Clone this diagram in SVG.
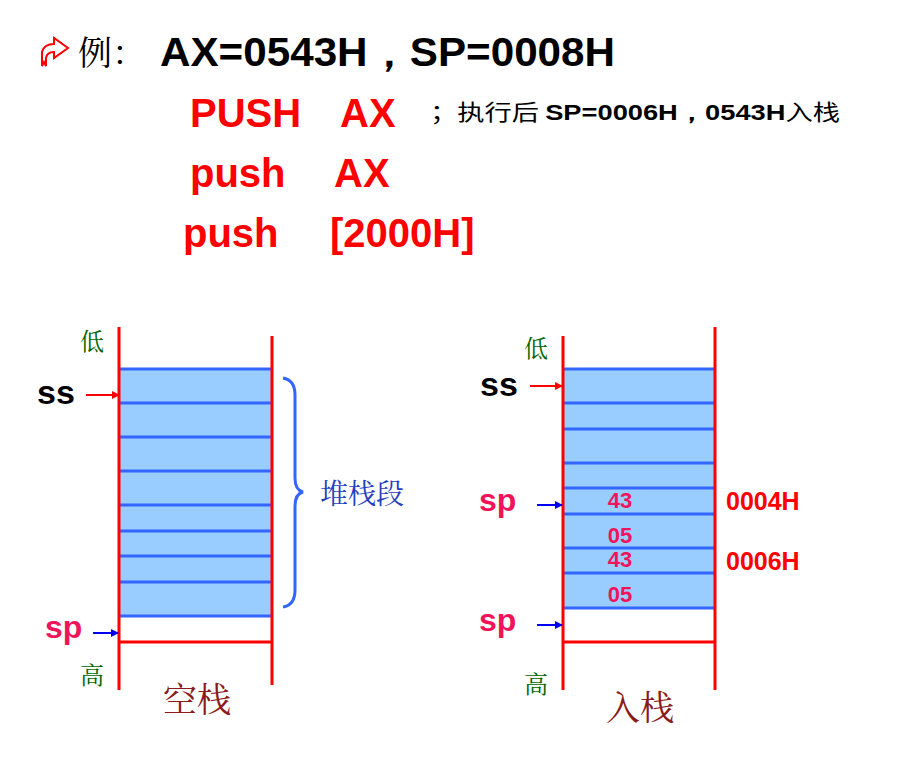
<svg xmlns="http://www.w3.org/2000/svg" width="902" height="759" viewBox="0 0 902 759">
<style>
.b{font-family:"Liberation Sans",Arial,sans-serif;font-weight:bold}
.cj{font-family:"Noto Sans CJK SC",sans-serif}
.se{font-family:"Noto Serif CJK SC","Noto Sans CJK SC",serif}
.red{fill:#ff0000}.mag{fill:#f0145a}
.rl{stroke:#ff0000;stroke-width:3;fill:none}
.bl{stroke:#3366ff;stroke-width:3}
.fill{fill:#99ccff}
.ar{stroke:#0000ee;stroke-width:2;marker-end:url(#ab)}
.arr{stroke:#ff0000;stroke-width:2;marker-end:url(#arm)}
</style>
<defs>
<marker id="ab" markerWidth="8" markerHeight="8" refX="7" refY="4" orient="auto" markerUnits="userSpaceOnUse"><path d="M0,0 L8,4 L0,8z" fill="#0000ee"/></marker>
<marker id="arm" markerWidth="8" markerHeight="8" refX="7" refY="4" orient="auto" markerUnits="userSpaceOnUse"><path d="M0,0 L8,4 L0,8z" fill="#ff0000"/></marker>
</defs>
<rect width="902" height="759" fill="#fff"/>
<g id="title">
<path d="M42,66 L42,52 Q44,44 54,44 L54,38 L68,48 L54,58 L54,52 Q47,52 46,58 L46,66 L44,62z" fill="none" stroke="#ff0000" stroke-width="2"/>
<text x="78" y="65" class="se" font-size="34" fill="#000">例：</text>
<text x="160" y="66" class="b" font-size="40" fill="#000" textLength="455" lengthAdjust="spacingAndGlyphs">AX=0543H，SP=0008H</text>
<text x="190" y="127" class="b red" font-size="40">PUSH</text>
<text x="340" y="127" class="b red" font-size="40">AX</text>
<text x="430" y="120" class="cj" font-size="22" fill="#000" textLength="410" lengthAdjust="spacingAndGlyphs">；执行后 <tspan class="b">SP=0006H，0543H</tspan>入栈</text>
<text x="190" y="187" class="b red" font-size="40">push</text>
<text x="334" y="187" class="b red" font-size="40">AX</text>
<text x="183" y="247" class="b red" font-size="40">push</text>
<text x="330" y="247" class="b red" font-size="40">[2000H]</text>
</g>
<g id="stack-empty">
<rect x="120" y="369" width="151" height="247" class="fill"/>
<g class="bl"><line x1="120" y1="369" x2="271" y2="369"/><line x1="120" y1="403" x2="271" y2="403"/><line x1="120" y1="437" x2="271" y2="437"/><line x1="120" y1="471" x2="271" y2="471"/><line x1="120" y1="505" x2="271" y2="505"/><line x1="120" y1="531" x2="271" y2="531"/><line x1="120" y1="556" x2="271" y2="556"/><line x1="120" y1="582" x2="271" y2="582"/><line x1="120" y1="616" x2="271" y2="616"/></g>
<line x1="119" y1="327" x2="119" y2="690" class="rl"/>
<line x1="272" y1="336" x2="272" y2="685" class="rl"/>
<line x1="119" y1="642" x2="272" y2="642" class="rl"/>
<path d="M283,378 Q295,380 295,395 L295,478 Q295,490 303,492 Q295,494 295,506 L295,590 Q295,605 283,607" fill="none" stroke="#3366ff" stroke-width="3"/>
<text x="320" y="504" class="se" font-size="28" fill="#1f3fbf">堆栈段</text>
<text x="80" y="350" class="se" font-size="24" fill="#006600">低</text>
<text x="80" y="684" class="se" font-size="24" fill="#006600">高</text>
<text x="37" y="404" class="b" font-size="34" fill="#000">ss</text>
<text x="45" y="638" class="b mag" font-size="32">sp</text>
<text x="163" y="712" class="se" font-size="34" fill="#8b1a1a">空栈</text>
</g>
<g id="stack-push">
<rect x="564" y="369" width="150" height="239" class="fill"/>
<g class="bl"><line x1="564" y1="369" x2="714" y2="369"/><line x1="564" y1="403" x2="714" y2="403"/><line x1="564" y1="429" x2="714" y2="429"/><line x1="564" y1="463" x2="714" y2="463"/><line x1="564" y1="488" x2="714" y2="488"/><line x1="564" y1="514" x2="714" y2="514"/><line x1="564" y1="548" x2="714" y2="548"/><line x1="564" y1="573" x2="714" y2="573"/><line x1="564" y1="608" x2="714" y2="608"/></g>
<line x1="563" y1="336" x2="563" y2="690" class="rl"/>
<line x1="715" y1="327" x2="715" y2="690" class="rl"/>
<line x1="563" y1="642" x2="715" y2="642" class="rl"/>
<g class="b mag" font-size="22" text-anchor="middle"><text x="620" y="508">43</text><text x="620" y="543">05</text><text x="620" y="567">43</text><text x="620" y="602">05</text></g>
<text x="726" y="510" class="b red" font-size="25">0004H</text>
<text x="726" y="570" class="b red" font-size="25">0006H</text>
<text x="524" y="357" class="se" font-size="24" fill="#006600">低</text>
<text x="524" y="693" class="se" font-size="24" fill="#006600">高</text>
<text x="480" y="396" class="b" font-size="34" fill="#000">ss</text>
<text x="479" y="511" class="b mag" font-size="32">sp</text>
<text x="479" y="631" class="b mag" font-size="32">sp</text>
<text x="606" y="720" class="se" font-size="34" fill="#8b1a1a">入栈</text>
</g>
<g id="connectors">
<line x1="86" y1="395" x2="119" y2="395" class="arr"/>
<line x1="93" y1="633" x2="118" y2="633" class="ar"/>
<line x1="530" y1="386" x2="562" y2="386" class="arr"/>
<line x1="537" y1="505" x2="562" y2="505" class="ar"/>
<line x1="537" y1="625" x2="562" y2="625" class="ar"/>
</g>
</svg>
